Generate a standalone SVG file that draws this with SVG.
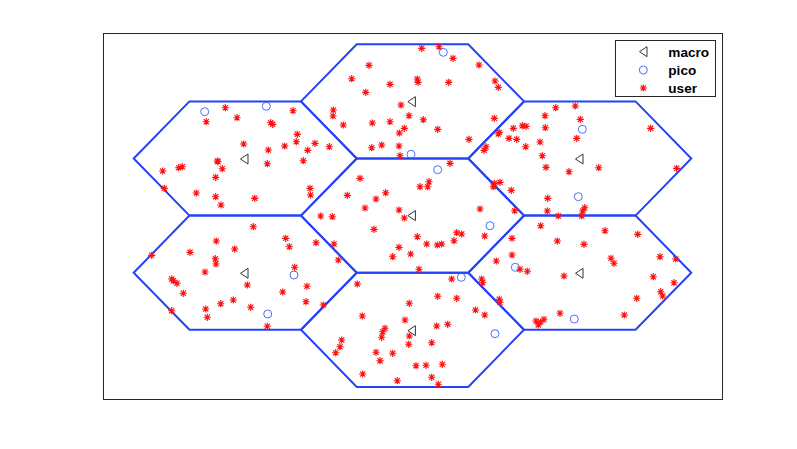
<svg xmlns="http://www.w3.org/2000/svg" xmlns:xlink="http://www.w3.org/1999/xlink" width="797" height="449" viewBox="0 0 797 449">
<style>
.hex{fill:none;stroke:#2542f5;stroke-width:2;stroke-linejoin:miter}
.mac{fill:none;stroke:#333;stroke-width:1}
.pic{fill:none;stroke:#3a5cff;stroke-width:0.9}
.usr{fill:none;stroke:#ff1010;stroke-width:1.15}
.box{fill:none;stroke:#262626;stroke-width:1}
.lg{font-family:"Liberation Sans",Arial,sans-serif;font-weight:bold;font-size:13.6px;fill:#000}
</style>
<defs>
<path id="tri" d="M-3.8,0L3.7,-5L3.7,5Z"/>
<circle id="pc" r="4"/>
<path id="st" d="M-3.6,0H3.6M0,-3.6V3.6M-2.6,-2.6L2.6,2.6M-2.6,2.6L2.6,-2.6"/>
</defs>
<rect width="797" height="449" fill="#fff"/>
<rect class="box" x="103.5" y="33.5" width="619" height="366" fill="#fff"/>
<g id="cell-top"><polygon class="hex" points="301,101.4 356.75,44.3 468.25,44.3 524,101.4 468.25,158.5 356.75,158.5"/><use href="#tri" class="mac" x="411.7" y="101.7"/></g>
<g id="cell-upper-left"><polygon class="hex" points="133.7,158.5 189.45,101.4 300.95,101.4 356.7,158.5 300.95,215.6 189.45,215.6"/><use href="#tri" class="mac" x="244.3" y="159"/></g>
<g id="cell-upper-right"><polygon class="hex" points="468.3,158.5 524.05,101.4 635.55,101.4 691.3,158.5 635.55,215.6 524.05,215.6"/><use href="#tri" class="mac" x="579.3" y="159"/></g>
<g id="cell-center"><polygon class="hex" points="301,215.6 356.75,158.5 468.25,158.5 524,215.6 468.25,272.7 356.75,272.7"/><use href="#tri" class="mac" x="411.7" y="215.6"/></g>
<g id="cell-lower-left"><polygon class="hex" points="133.7,272.7 189.45,215.6 300.95,215.6 356.7,272.7 300.95,329.8 189.45,329.8"/><use href="#tri" class="mac" x="244.3" y="273.3"/></g>
<g id="cell-lower-right"><polygon class="hex" points="468.3,272.7 524.05,215.6 635.55,215.6 691.3,272.7 635.55,329.8 524.05,329.8"/><use href="#tri" class="mac" x="579.3" y="273.3"/></g>
<g id="cell-bottom"><polygon class="hex" points="301,329.8 356.75,272.7 468.25,272.7 524,329.8 468.25,386.9 356.75,386.9"/><use href="#tri" class="mac" x="411.7" y="330.7"/></g>
<g id="picos" class="pic">
<use href="#pc" x="204.7" y="111.7"/><use href="#pc" x="266.3" y="106.3"/><use href="#pc" x="443.3" y="52.3"/><use href="#pc" x="411" y="154.3"/><use href="#pc" x="437.7" y="169.7"/><use href="#pc" x="582.3" y="129.3"/><use href="#pc" x="578.3" y="196.7"/><use href="#pc" x="294" y="275"/><use href="#pc" x="267.7" y="314"/><use href="#pc" x="461.3" y="277.3"/><use href="#pc" x="490" y="225.7"/><use href="#pc" x="515.3" y="267.3"/><use href="#pc" x="574.3" y="319"/><use href="#pc" x="495" y="333.7"/>
</g>
<g id="users" class="usr">
<use href="#st" x="225.3" y="107.7"/><use href="#st" x="206.3" y="121.7"/><use href="#st" x="237" y="117.7"/><use href="#st" x="270.7" y="122.7"/><use href="#st" x="272.7" y="124.3"/><use href="#st" x="293" y="110.7"/><use href="#st" x="297.3" y="134.3"/><use href="#st" x="296.3" y="141.7"/><use href="#st" x="243.7" y="144"/><use href="#st" x="268.3" y="150"/><use href="#st" x="284.7" y="146"/><use href="#st" x="307.7" y="150.3"/><use href="#st" x="217.3" y="161"/><use href="#st" x="218" y="161.7"/><use href="#st" x="222.3" y="168.7"/><use href="#st" x="267.3" y="163.7"/><use href="#st" x="303.3" y="160.7"/><use href="#st" x="162.7" y="171"/><use href="#st" x="178.7" y="167.7"/><use href="#st" x="182.3" y="166.7"/><use href="#st" x="215.7" y="177.3"/><use href="#st" x="164.3" y="188.3"/><use href="#st" x="196.3" y="193"/><use href="#st" x="215.7" y="196.7"/><use href="#st" x="221" y="205"/><use href="#st" x="254.7" y="198.3"/><use href="#st" x="310" y="188.3"/><use href="#st" x="310.5" y="195"/>
<use href="#st" x="421.7" y="48.3"/><use href="#st" x="439" y="46.7"/><use href="#st" x="453" y="58.3"/><use href="#st" x="479" y="65"/><use href="#st" x="369" y="65.3"/><use href="#st" x="351.7" y="78.7"/><use href="#st" x="390" y="84.3"/><use href="#st" x="417.3" y="79"/><use href="#st" x="418" y="82.3"/><use href="#st" x="448.7" y="82.3"/><use href="#st" x="365.7" y="92.3"/><use href="#st" x="401" y="105"/><use href="#st" x="333.3" y="110"/><use href="#st" x="333" y="116"/><use href="#st" x="409" y="115.7"/><use href="#st" x="423.3" y="119.7"/><use href="#st" x="343.3" y="125"/><use href="#st" x="372.3" y="123"/><use href="#st" x="390" y="121.7"/><use href="#st" x="404.3" y="128.3"/><use href="#st" x="399.3" y="133"/><use href="#st" x="437.7" y="129.3"/><use href="#st" x="469" y="139.3"/><use href="#st" x="371.7" y="147.7"/><use href="#st" x="381.7" y="145"/><use href="#st" x="399" y="146"/><use href="#st" x="400" y="155.7"/><use href="#st" x="315" y="143.3"/><use href="#st" x="329.3" y="146.7"/><use href="#st" x="450" y="163.3"/><use href="#st" x="360" y="178.3"/><use href="#st" x="429" y="181.7"/><use href="#st" x="427.7" y="186.7"/><use href="#st" x="420" y="186.7"/><use href="#st" x="347.3" y="195.3"/><use href="#st" x="385.7" y="192.7"/><use href="#st" x="376" y="199"/><use href="#st" x="365" y="208"/><use href="#st" x="399" y="210"/><use href="#st" x="320.7" y="216"/><use href="#st" x="332.3" y="216.7"/><use href="#st" x="404.3" y="218"/><use href="#st" x="480" y="209"/>
<use href="#st" x="495" y="81"/><use href="#st" x="498.3" y="87.3"/><use href="#st" x="555.7" y="107.7"/><use href="#st" x="575.3" y="106"/><use href="#st" x="545" y="115.7"/><use href="#st" x="580.3" y="119.3"/><use href="#st" x="494.3" y="118.3"/><use href="#st" x="513.3" y="128.3"/><use href="#st" x="522.3" y="125.7"/><use href="#st" x="526" y="126.3"/><use href="#st" x="545.3" y="127.7"/><use href="#st" x="499.3" y="132.3"/><use href="#st" x="498.3" y="134"/><use href="#st" x="509" y="138.3"/><use href="#st" x="516.7" y="139.3"/><use href="#st" x="525.7" y="146.7"/><use href="#st" x="540" y="142"/><use href="#st" x="576.7" y="138.3"/><use href="#st" x="650.7" y="128.3"/><use href="#st" x="486" y="146.7"/><use href="#st" x="484" y="150.3"/><use href="#st" x="542.3" y="155.7"/><use href="#st" x="546" y="167.3"/><use href="#st" x="569" y="171.7"/><use href="#st" x="598.7" y="167.7"/><use href="#st" x="676.7" y="168.3"/><use href="#st" x="494.3" y="183.3"/><use href="#st" x="500" y="182.3"/><use href="#st" x="493.3" y="186.7"/><use href="#st" x="511.3" y="190.3"/><use href="#st" x="547.7" y="198.3"/><use href="#st" x="584.7" y="207.7"/><use href="#st" x="582.7" y="211"/><use href="#st" x="514.7" y="210.7"/><use href="#st" x="547.3" y="211"/><use href="#st" x="558.3" y="216"/><use href="#st" x="581.7" y="216"/>
<use href="#st" x="253.3" y="226.7"/><use href="#st" x="285.7" y="238.3"/><use href="#st" x="289.3" y="246.7"/><use href="#st" x="216.3" y="241"/><use href="#st" x="190" y="252.3"/><use href="#st" x="234.7" y="249"/><use href="#st" x="151.7" y="255.3"/><use href="#st" x="215.3" y="258.7"/><use href="#st" x="216" y="264"/><use href="#st" x="294.7" y="267.3"/><use href="#st" x="205" y="272"/><use href="#st" x="171.7" y="279"/><use href="#st" x="173.3" y="280.7"/><use href="#st" x="177" y="283.3"/><use href="#st" x="247.3" y="285"/><use href="#st" x="307" y="286.3"/><use href="#st" x="282.7" y="292"/><use href="#st" x="183.3" y="293.3"/><use href="#st" x="233.3" y="300"/><use href="#st" x="220.7" y="303.7"/><use href="#st" x="250.7" y="307.3"/><use href="#st" x="205.7" y="309"/><use href="#st" x="306" y="301.7"/><use href="#st" x="171.7" y="310.7"/><use href="#st" x="207.3" y="317.3"/><use href="#st" x="267.3" y="326.3"/>
<use href="#st" x="374" y="229.3"/><use href="#st" x="417.3" y="236.7"/><use href="#st" x="456.7" y="232.7"/><use href="#st" x="461.7" y="234"/><use href="#st" x="454" y="240.7"/><use href="#st" x="426.7" y="244"/><use href="#st" x="437.3" y="245"/><use href="#st" x="441.7" y="244"/><use href="#st" x="316" y="242.7"/><use href="#st" x="334" y="244"/><use href="#st" x="399" y="247.3"/><use href="#st" x="410.7" y="254"/><use href="#st" x="392.7" y="256.7"/><use href="#st" x="338.3" y="260"/><use href="#st" x="419" y="269.3"/><use href="#st" x="451.7" y="279"/><use href="#st" x="357.3" y="284"/><use href="#st" x="323.3" y="305"/><use href="#st" x="437.7" y="296.3"/><use href="#st" x="456.7" y="298.3"/><use href="#st" x="409.3" y="303.3"/><use href="#st" x="475.5" y="310"/><use href="#st" x="362.3" y="316"/><use href="#st" x="405" y="320"/><use href="#st" x="385" y="328.3"/><use href="#st" x="382.7" y="331.7"/><use href="#st" x="381.7" y="337.3"/><use href="#st" x="436.7" y="326"/><use href="#st" x="447.7" y="324.3"/><use href="#st" x="409.3" y="336"/><use href="#st" x="408.7" y="344.3"/><use href="#st" x="341.7" y="340"/><use href="#st" x="340" y="346.7"/><use href="#st" x="335.7" y="352.7"/><use href="#st" x="431.7" y="342.7"/><use href="#st" x="376" y="352.3"/><use href="#st" x="392.7" y="353.3"/><use href="#st" x="380" y="360.7"/><use href="#st" x="416" y="365.7"/><use href="#st" x="426" y="365.3"/><use href="#st" x="442.3" y="364.3"/><use href="#st" x="362.7" y="374"/><use href="#st" x="431.7" y="377.3"/><use href="#st" x="397.3" y="380.7"/><use href="#st" x="438.3" y="384.3"/>
<use href="#st" x="540.7" y="225.7"/><use href="#st" x="605" y="230.7"/><use href="#st" x="637.7" y="234.3"/><use href="#st" x="484.7" y="236"/><use href="#st" x="512" y="238.3"/><use href="#st" x="557.3" y="241"/><use href="#st" x="584" y="244.3"/><use href="#st" x="512" y="255"/><use href="#st" x="496.3" y="261"/><use href="#st" x="611" y="258.3"/><use href="#st" x="614" y="263.3"/><use href="#st" x="660" y="256.7"/><use href="#st" x="675.7" y="259"/><use href="#st" x="520" y="269.3"/><use href="#st" x="527.3" y="271.3"/><use href="#st" x="564" y="276"/><use href="#st" x="653.3" y="276.7"/><use href="#st" x="481.7" y="279"/><use href="#st" x="482.7" y="282.7"/><use href="#st" x="674" y="282.7"/><use href="#st" x="660.7" y="291.7"/><use href="#st" x="662.7" y="296"/><use href="#st" x="636.7" y="298.3"/><use href="#st" x="499.3" y="299.3"/><use href="#st" x="500" y="302.3"/><use href="#st" x="484.7" y="315"/><use href="#st" x="560" y="313.3"/><use href="#st" x="624.3" y="315"/><use href="#st" x="536" y="321"/><use href="#st" x="540.7" y="322"/><use href="#st" x="544" y="319.3"/><use href="#st" x="538.3" y="325"/>
</g>
<g id="legend">
<rect x="615.5" y="40.5" width="100" height="56" fill="#fff" stroke="#262626" stroke-width="1"/>
<use href="#tri" class="mac" x="643.3" y="51.7"/>
<use href="#pc" class="pic" x="643.3" y="70"/>
<use href="#st" class="usr" x="643.3" y="88"/>
<text class="lg" x="668.3" y="56.5">macro</text>
<text class="lg" x="668.3" y="74.5">pico</text>
<text class="lg" x="668.3" y="92.5">user</text>
</g>
</svg>
